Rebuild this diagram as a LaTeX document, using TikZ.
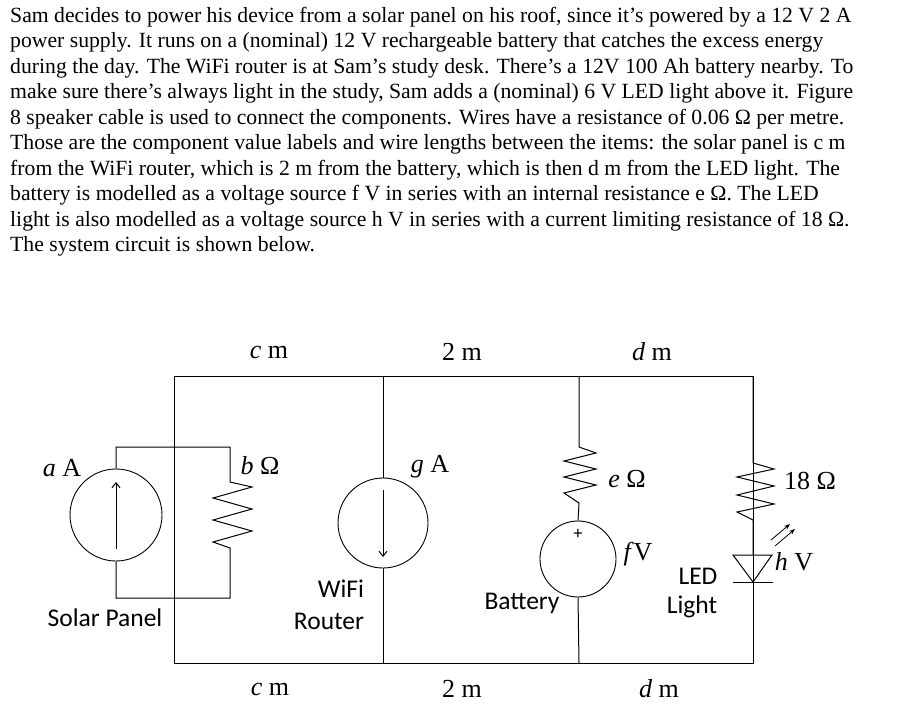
\documentclass[tikz,border=0pt]{standalone}
\usepackage{fontspec}
\setmainfont{Liberation Serif}
\newfontfamily\carlitofont{Carlito}
\usetikzlibrary{arrows.meta}
\begin{document}
\begin{tikzpicture}[x=1pt,y=-1pt,
  wire/.style={line width=1pt},
  txt/.style={anchor=base west,inner sep=0,font=\fontsize{21.7}{24}\selectfont},
  lab/.style={inner sep=0,font=\fontsize{26}{28}\selectfont},
  sans/.style={inner sep=0,font=\carlitofont\fontsize{25.5}{28}\selectfont}]
\useasboundingbox (0,0) rectangle (912,712);
% paragraph
\node[txt] (l1) at (10,22) {Sam decides to power his device from a solar panel on his roof, since it's powered by a 12 V 2 A};
\node[txt] (l2) at (10,47.5) {power supply. It runs on a (nominal) 12 V rechargeable battery that catches the excess energy};
\node[txt] (l3) at (10,73) {during the day. The WiFi router is at Sam’s study desk. There's a 12V 100 Ah battery nearby. To};
\node[txt] (l4) at (10,98.5) {make sure there's always light in the study, Sam adds a (nominal) 6 V LED light above it. Figure};
\node[txt] (l5) at (10,124) {8 speaker cable is used to connect the components. Wires have a resistance of 0.06 Ω per metre.};
\node[txt] (l6) at (10,149.5) {Those are the component value labels and wire lengths between the items: the solar panel is c m};
\node[txt] (l7) at (10,175) {from the WiFi router, which is 2 m from the battery, which is then d m from the LED light. The};
\node[txt] (l8) at (10,200.5) {battery is modelled as a voltage source f V in series with an internal resistance e Ω. The LED};
\node[txt] (l9) at (10,226) {light is also modelled as a voltage source h V in series with a current limiting resistance of 18 Ω.};
\node[txt] (l10) at (10,251.5) {The system circuit is shown below.};
% coordinates
\coordinate (TL) at (174,376); \coordinate (BL) at (174,663);
\coordinate (TW) at (383,376); \coordinate (BW) at (383,663);
\coordinate (TB) at (579,376); \coordinate (BB) at (579,663);
\coordinate (TR) at (753,376); \coordinate (BR) at (753,663);
% main wires
\draw[wire] (TL) -- (TR) -- (BR) -- (BL) -- cycle;
% solar panel
\coordinate (s1) at (174,447); \coordinate (s2) at (174,598);
\draw[wire] (TL) -- (s1); \draw[wire] (s2) -- (BL);
\node[draw,circle,minimum size=92pt,line width=0.9pt,inner sep=0] (sp) at (116,515) {};
\draw[wire] (sp.north) -- (116,447) -- (230,447) -- (230,482)
  -- (252,487) -- (213,498) -- (252,509) -- (213,520) -- (252,531) -- (213,542) -- (230,548) -- (230,598) -- (116,598) -- (sp.south);
\draw[wire,-{Straight Barb[length=5pt,width=8pt]}] (116,549) -- (116,482);
% wifi
\node[draw,circle,minimum size=90pt,line width=0.9pt,inner sep=0] (wf) at (383,523) {};
\draw[wire] (TW) -- (wf.north); \draw[wire] (wf.south) -- (BW);
\draw[wire,-{Straight Barb[length=5pt,width=8pt]}] (383,490) -- (383,557);
% battery
\node[draw,circle,minimum size=76pt,line width=0.9pt,inner sep=0] (bt) at (578,559) {};
\draw[wire] (TB) -- (579,447) -- (596,453) -- (564,461) -- (596,469) -- (564,477) -- (596,485) -- (564,493) -- (579,503) -- (bt.north);
\draw[wire] (bt.south) -- (BB);
\node[inner sep=0,font=\fontsize{18}{18}\selectfont\bfseries] (plus) at (578,534) {+};
% LED branch
\draw[wire] (TR) -- (753,463) -- (774,469) -- (737,477) -- (774,486) -- (737,495) -- (774,504) -- (737,512) -- (753,520) -- (753,555);
\draw[wire] (733,555) -- (772,555) -- (753,582) -- cycle;
\draw[wire] (733,582) -- (773,582);
\draw[line width=0.8pt,-{Stealth[length=6pt,width=4.5pt]}] (771,540) -- (790,524);
\draw[line width=0.8pt,-{Stealth[length=6pt,width=4.5pt]}] (775,546) -- (795,529);
% labels
\node[lab] (c1) at (269,352) {\textit{c} m};
\node[lab] (m1) at (462,352) {2 m};
\node[lab] (d1) at (652,352) {\textit{d} m};
\node[lab] (c2) at (270,689) {\textit{c} m};
\node[lab] (m2) at (462,689) {2 m};
\node[lab] (d2) at (659,689) {\textit{d} m};
\node[lab] (aA) at (62,468) {\textit{a} A};
\node[lab] (bO) at (260,466) {\textit{b} Ω};
\node[lab] (gA) at (430,467) {\textit{g} A};
\node[lab] (eO) at (627,479) {\textit{e} Ω};
\node[lab] (r18) at (810,481) {18 Ω};
\node[lab] (fV) at (638,554) {\textit{f}V};
\node[lab] (hV) at (794,562) {\textit{h} V};
\node[sans] (sol) at (105,618) {Solar Panel};
\node[sans] (wi) at (341,589) {WiFi};
\node[sans] (ro) at (329,621) {Router};
\node[sans] (ba) at (522,603) {Battery};
\node[sans] (le) at (698,576) {LED};
\node[sans] (li) at (692,607) {Light};
\end{tikzpicture}
\end{document}
